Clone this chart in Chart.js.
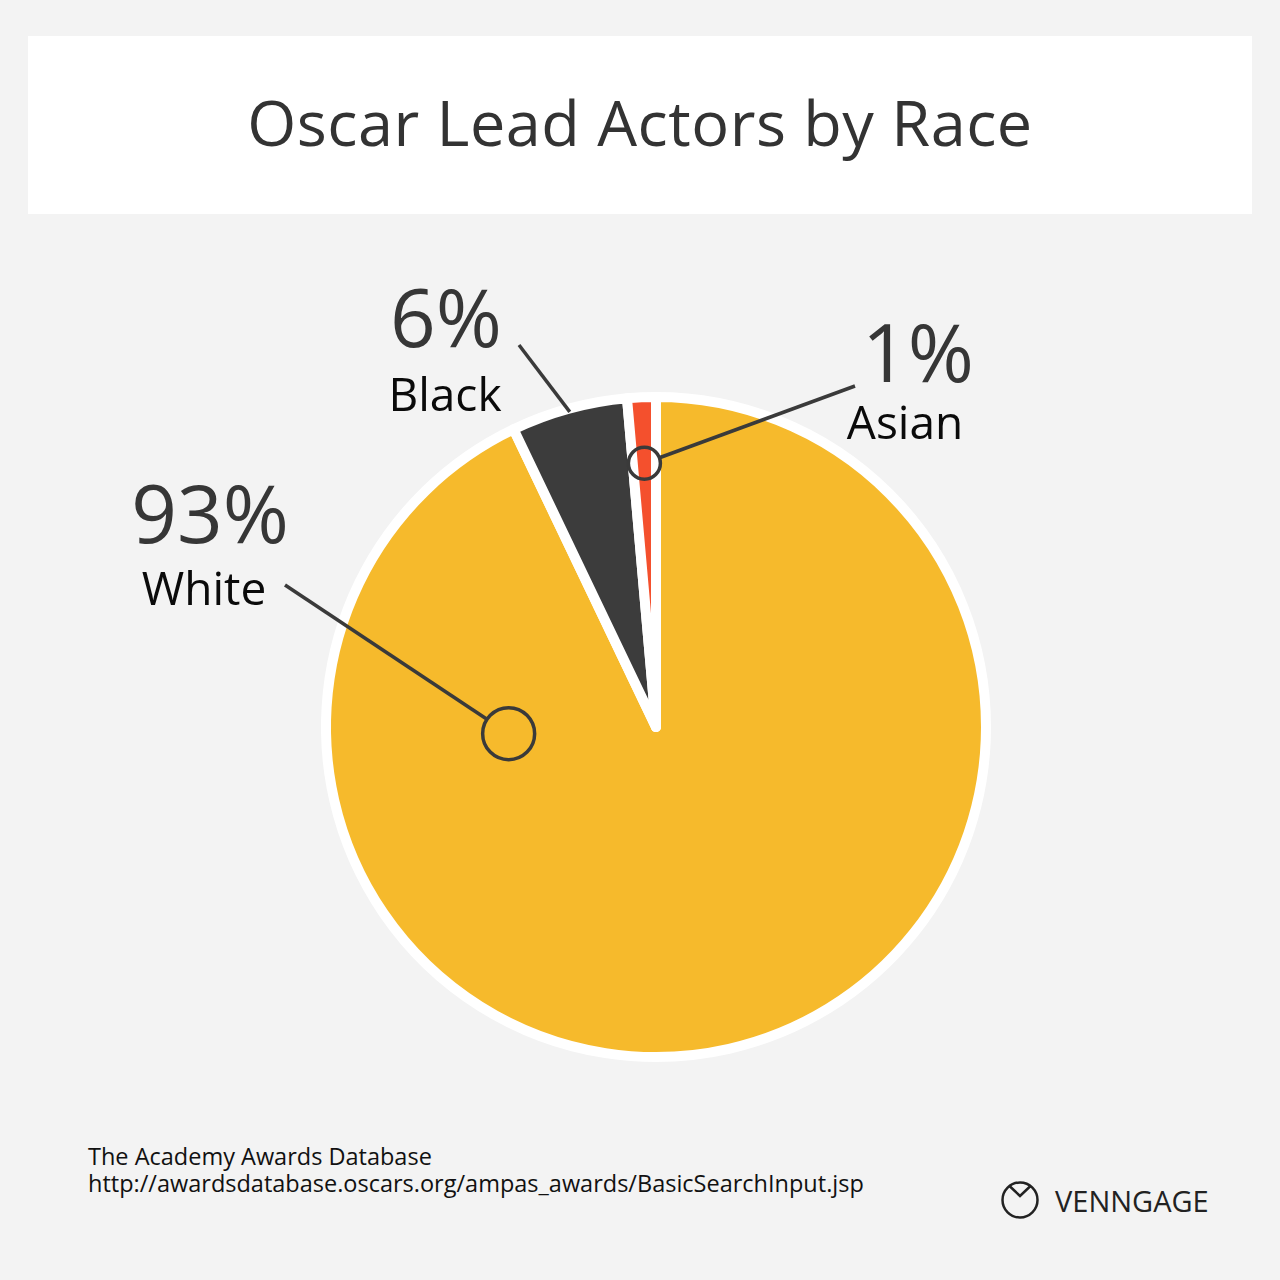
<!DOCTYPE html>
<html>
<head>
<meta charset="utf-8">
<script src="https://cdn.jsdelivr.net/npm/chart.js@4"></script>
<style>
  html, body { margin: 0; padding: 0; }
  body { width: 1280px; height: 1280px; background: #f3f3f3; position: relative; overflow: hidden; font-family: "Open Sans", sans-serif; }
  .title-box { position: absolute; left: 28px; top: 36px; width: 1224px; height: 178px; background: #fff; }
  .title { position: absolute; left: 0; right: 0; top: -3px; line-height: 178px; text-align: center; font-size: 63px; color: #333; letter-spacing: 0.5px; }
  .source { position: absolute; left: 88px; top: 1143px; font-size: 23.5px; line-height: 27px; color: #111; }
  .brand { position: absolute; left: 1000px; top: 1180px; height: 40px; display: flex; align-items: center; }
  .brand span { font-size: 29px; color: #222; margin-left: 15px; }
  .chart-wrap { position: absolute; left: 0; top: 0; width: 1280px; height: 1280px; }
</style>
</head>
<body>
<div class="title-box"><div class="title">Oscar Lead Actors by Race</div></div>
<div class="source">The Academy Awards Database<br>http://awardsdatabase.oscars.org/ampas_awards/BasicSearchInput.jsp</div>
<div class="brand">
  <svg width="40" height="40" viewBox="0 0 40 40"><circle cx="20" cy="20" r="17.5" fill="none" stroke="#222" stroke-width="2.5"/><polyline points="9.5,6 20,16 30.5,6" fill="none" stroke="#222" stroke-width="2.5"/></svg>
  <span>VENNGAGE</span>
</div>
<div class="chart-wrap"><canvas id="pieChart"></canvas></div>

<script>
// values (share of lead actor nominees)
const categories = ["White", "Black", "Asian"];
const shares = [92.9, 5.7, 1.4];
const shareLabels = ["93%", "6%", "1%"];
const sliceColors = ["#f6ba2c", "#3c3c3c", "#f4502d"];

// callout layout: where the leader line starts on the slice, and where the text sits
const callouts = [
  { angle: 267.4, r: 0.447, dot: 26, lineTo: [285, 585], pct: [210, 543], name: [204, 605] },
  { angle: null,  r: 0.99,  dot: 0,  lineTo: [519, 345], pct: [446, 347], name: [445, 411] },
  { angle: null,  r: 0.80,  dot: 16, lineTo: [855, 386], pct: [918, 382], name: [905, 439] },
];

const calloutPlugin = {
  id: "callouts",
  afterDraw(chart) {
    const ctx = chart.ctx;
    const arcs = chart.getDatasetMeta(0).data;
    ctx.save();
    ctx.strokeStyle = "#3a3a3a";
    ctx.lineWidth = 3.5;
    arcs.forEach((arc, i) => {
      const c = callouts[i];
      const a = c.angle === null
        ? (arc.startAngle + arc.endAngle) / 2
        : -Math.PI / 2 + c.angle * Math.PI / 180;
      const px = arc.x + Math.cos(a) * arc.outerRadius * c.r;
      const py = arc.y + Math.sin(a) * arc.outerRadius * c.r;
      const dx = c.lineTo[0] - px, dy = c.lineTo[1] - py;
      const len = Math.hypot(dx, dy);
      ctx.beginPath();
      ctx.moveTo(px + dx / len * c.dot, py + dy / len * c.dot);
      ctx.lineTo(c.lineTo[0], c.lineTo[1]);
      ctx.stroke();
      if (c.dot) {
        ctx.beginPath();
        ctx.arc(px, py, c.dot, 0, Math.PI * 2);
        ctx.stroke();
      }
      ctx.textAlign = "center";
      ctx.textBaseline = "alphabetic";
      ctx.fillStyle = "#363636";
      ctx.font = '80px "Open Sans"';
      ctx.fillText(shareLabels[i], c.pct[0], c.pct[1]);
      ctx.fillStyle = "#0a0a0a";
      ctx.font = '46px "Open Sans"';
      ctx.fillText(categories[i], c.name[0], c.name[1]);
    });
    ctx.restore();
  },
};

function drawChart() {
  new Chart(document.getElementById("pieChart"), {
    type: "pie",
    data: {
      labels: categories,
      datasets: [{
        data: shares,
        backgroundColor: sliceColors,
        borderColor: "#ffffff",
        borderWidth: 10,
        borderJoinStyle: "round",
        hoverOffset: 0,
      }],
    },
    options: {
      responsive: true,
      maintainAspectRatio: false,
      animation: false,
      radius: 330,
      layout: { padding: { left: 32, right: 0, top: 174, bottom: 0 } },
      plugins: { legend: { display: false }, tooltip: { enabled: false } },
    },
    plugins: [calloutPlugin],
  });
}

Promise.all([
  document.fonts.load('80px "Open Sans"'),
  document.fonts.load('46px "Open Sans"'),
]).then(drawChart, drawChart);
</script>
</body>
</html>
